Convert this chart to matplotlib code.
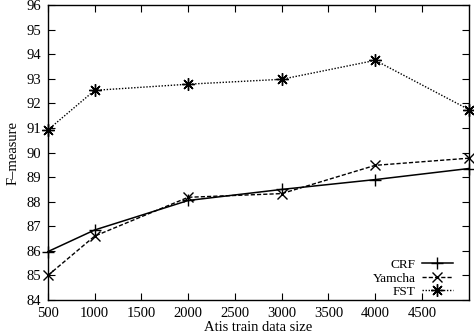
import matplotlib
matplotlib.use("Agg")
import matplotlib.pyplot as plt

# training set sizes and F-measure per tagger
sizes = [500, 1000, 2000, 3000, 4000, 5000]
crf = [85.97, 86.85, 88.05, 88.5, 88.9, 89.35]
yamcha = [85.0, 86.6, 88.18, 88.33, 89.48, 89.77]
fst = [90.92, 92.53, 92.78, 92.98, 93.75, 91.75]

xticks = [500, 1000, 1500, 2000, 2500, 3000, 3500, 4000, 4500]
yticks = list(range(84, 97))

plt.rcParams['font.family'] = ['Liberation Serif', 'DejaVu Serif']
plt.rcParams['font.size'] = 10.5

fig = plt.figure(figsize=(4.74, 3.36), dpi=100)
ax = fig.add_axes([0.101, 0.107, 0.888, 0.878])

ax.plot(sizes, crf, color='black', lw=1.1, ls='-', marker='+', ms=9,
        mew=1.0, label='CRF', clip_on=False)
ax.plot(sizes, yamcha, color='black', lw=1.0, ls=(0, (3, 1.5)), marker='x',
        ms=7, mew=1.0, label='Yamcha', clip_on=False)
ax.plot(sizes, fst, color='black', lw=1.0, ls=(0, (1, 1.2)), marker=(8, 2, 0),
        ms=9, mew=1.0, label='FST', clip_on=False)

ax.set_xlim(500, 5000)
ax.set_ylim(84, 96)
ax.set_xticks(xticks)
ax.set_yticks(yticks)
ax.tick_params(direction='in', top=True, right=True, length=5, width=0.8,
               labelsize=10.5)
ax.tick_params(axis='x', pad=5)
ax.tick_params(axis='y', pad=5)
for s in ax.spines.values():
    s.set_linewidth(1.0)

ax.set_xlabel('Atis train data size', fontsize=10.5, labelpad=1)
ax.set_ylabel('F\u2013measure', fontsize=10.5, labelpad=5)

ax.legend(loc='lower right', bbox_to_anchor=(0.985, -0.027), frameon=False,
          markerfirst=False, handlelength=2.3, handletextpad=0.5,
          labelspacing=0.1, fontsize=9.5, borderaxespad=0.35)

fig.savefig('out.png', dpi=100)
